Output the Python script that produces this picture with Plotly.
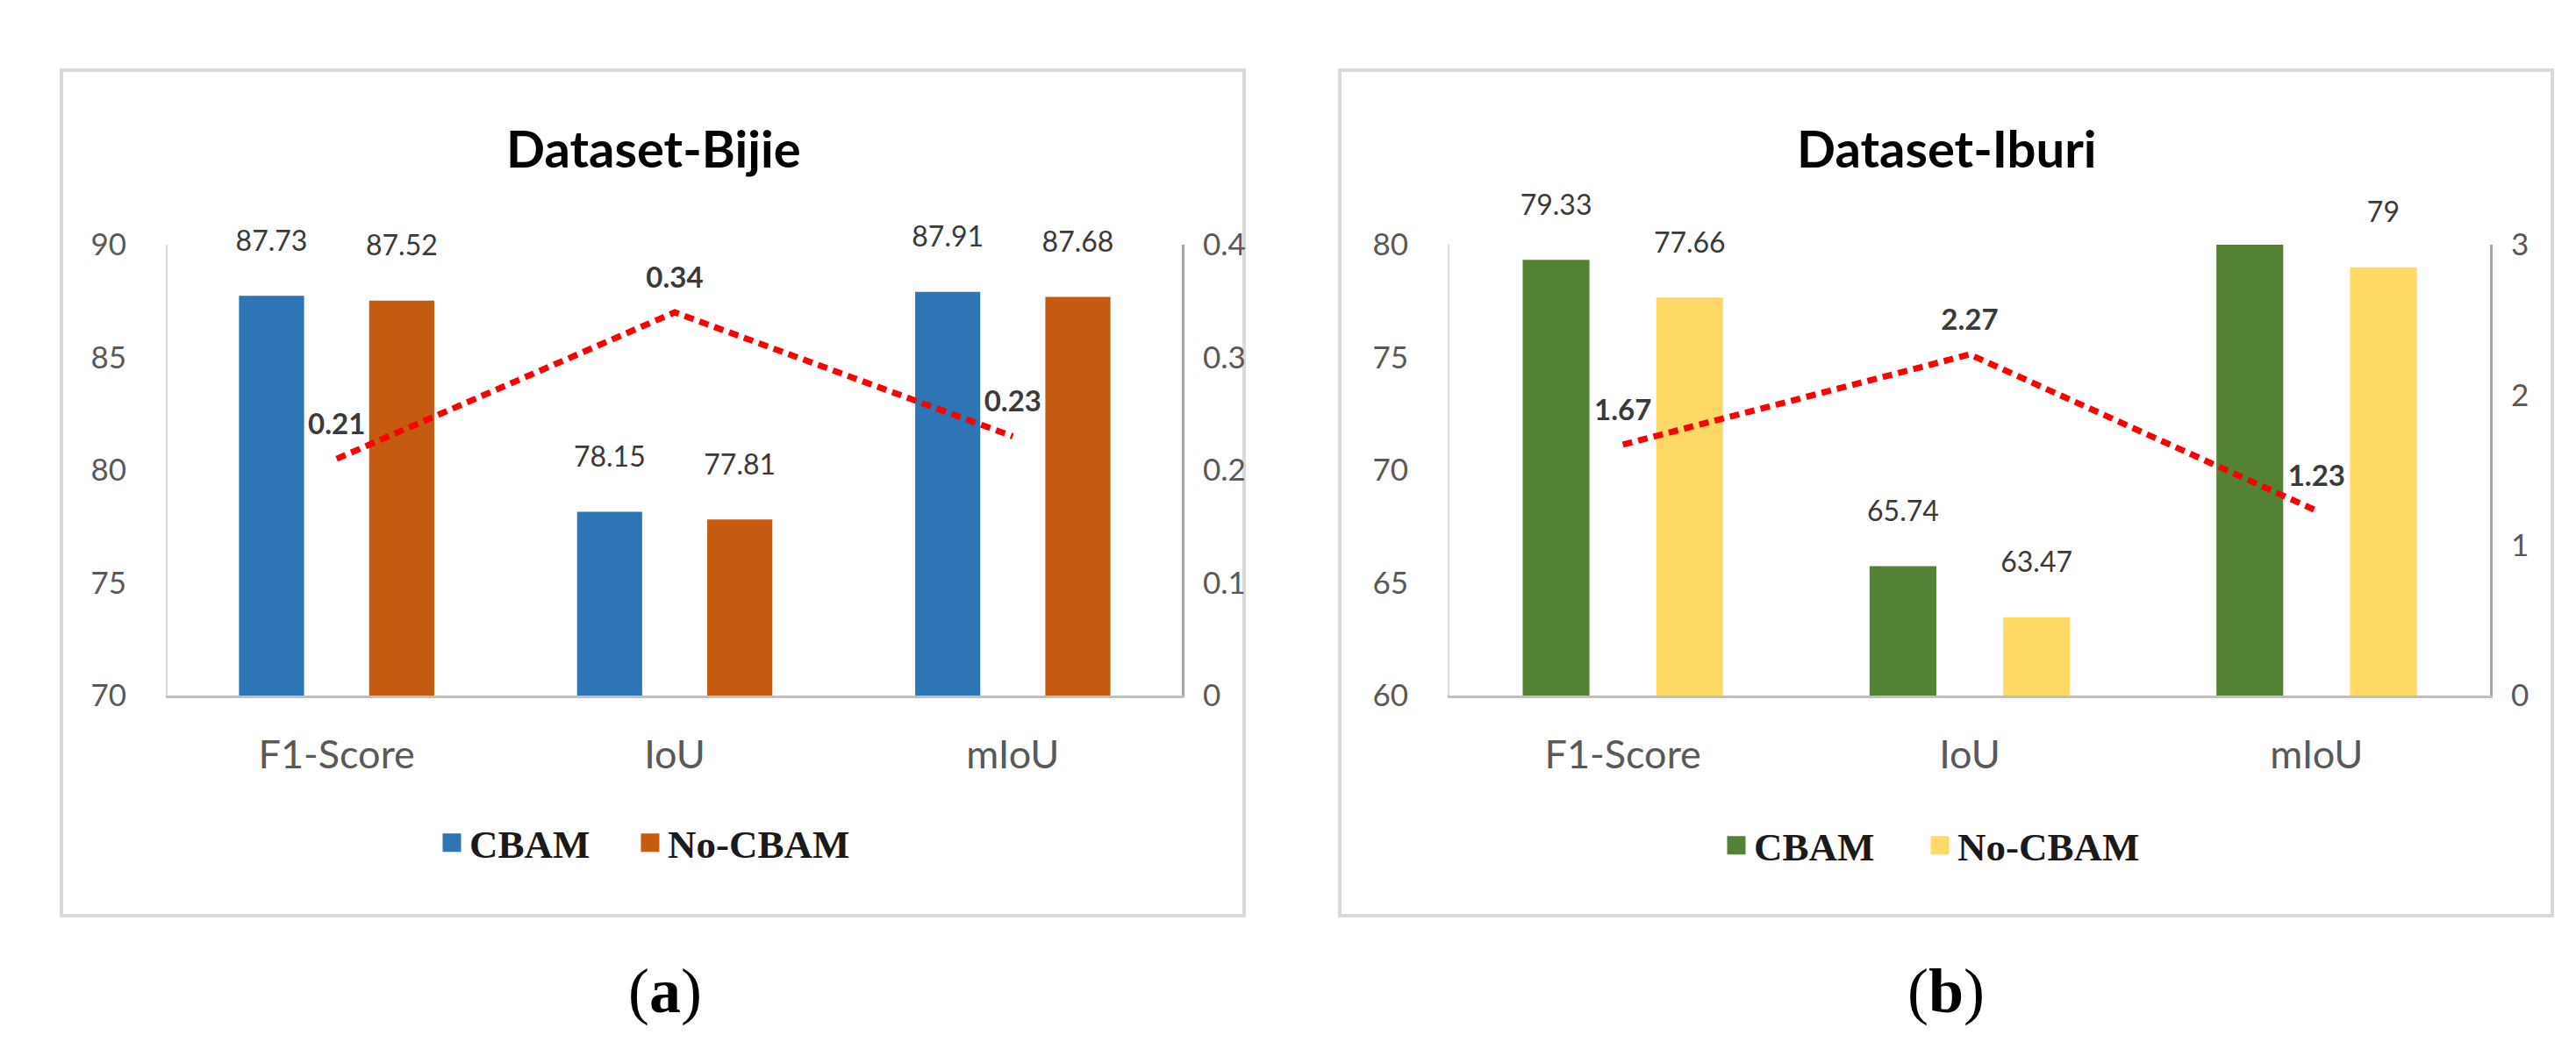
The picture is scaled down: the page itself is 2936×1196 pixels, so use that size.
import plotly.graph_objects as go

categories = ["F1-Score", "IoU", "mIoU"]

bijie_cbam = [87.73, 78.15, 87.91]
bijie_nocbam = [87.52, 77.81, 87.68]
bijie_diff = [0.21, 0.34, 0.23]

iburi_cbam = [79.33, 65.74, 80.23]
iburi_nocbam = [77.66, 63.47, 79]
iburi_diff = [1.67, 2.27, 1.23]

series_names = ["CBAM", "No-CBAM"]
panel_titles = ["Dataset-Bijie", "Dataset-Iburi"]
panel_captions = ["(<b>a</b>)", "(<b>b</b>)"]

W, H = 2936, 1196
SANS = "Lato, 'Open Sans', sans-serif"
SERIF = "'Liberation Serif', 'DejaVu Serif', serif"


def px_x(v):
    return v / W


def px_y(v):
    return 1 - v / H


def fmt(v):
    return f"{v:g}"


fig = go.Figure()

panels = [
    dict(xa="x", ya="y", ya2="y2", legends=["legend", "legend2"],
         vals=[bijie_cbam, bijie_nocbam], diff=bijie_diff,
         colors=["#2E75B6", "#C55A11"]),
    dict(xa="x2", ya="y3", ya2="y4", legends=["legend3", "legend4"],
         vals=[iburi_cbam, iburi_nocbam], diff=iburi_diff,
         colors=["#548235", "#FFD966"]),
]

for p in panels:
    for name, vals, col in zip(series_names, p["vals"], p["colors"]):
        fig.add_trace(go.Bar(
            x=categories, y=vals, name=name, showlegend=False,
            xaxis=p["xa"], yaxis=p["ya"],
            marker=dict(color=col, line=dict(width=0)),
            text=[fmt(v) + "<br>&nbsp;" for v in vals],
            textposition="outside", constraintext="none", cliponaxis=False,
            textfont=dict(family=SANS, size=32, color="#3A3A3A"),
        ))
    # legend entries (square swatches), one legend box per entry
    for name, col, lg in zip(series_names, p["colors"], p["legends"]):
        fig.add_trace(go.Scatter(
            x=[None], y=[None], name=name, mode="markers",
            xaxis=p["xa"], yaxis=p["ya"], legend=lg,
            marker=dict(symbol="square", size=16, color=col,
                        line=dict(color=col, width=5)),
        ))
    fig.add_trace(go.Scatter(
        x=categories, y=p["diff"], xaxis=p["xa"], yaxis=p["ya2"],
        mode="lines+markers+text", showlegend=False,
        line=dict(color="#FF0000", width=7, dash="11px,7px"),
        marker=dict(size=30, color="rgba(0,0,0,0)"),
        text=["<b>" + fmt(v) + "</b>" for v in p["diff"]],
        textposition="top center", cliponaxis=False,
        textfont=dict(family=SANS, size=33, color="#3A3A3A"),
    ))

ydom = [px_y(785), px_y(271)]
tickfont = dict(family=SANS, size=35, color="#595959")
catfont = dict(family=SANS, size=45, color="#595959")

common_x = dict(type="category", showline=True, linecolor="#BFBFBF", linewidth=3,
                showgrid=False, tickfont=catfont, ticks="", ticklabelstandoff=26,
                fixedrange=True, automargin=False)
common_yl = dict(showline=True, linecolor="#D9D9D9", linewidth=2, showgrid=False,
                 zeroline=False, tickfont=tickfont, ticks="", ticklabelstandoff=38,
                 automargin=False)
common_yr = dict(showline=True, linecolor="#A6A6A6", linewidth=3, showgrid=False,
                 zeroline=False, tickfont=tickfont, ticks="", ticklabelstandoff=14,
                 side="right", automargin=False)

legend_common = dict(orientation="h", xanchor="left", yanchor="middle",
                     font=dict(family=SERIF, size=45, color="#1A1A1A", weight="bold"),
                     bgcolor="rgba(0,0,0,0)", itemsizing="trace")

fig.update_layout(
    width=W, height=H, autosize=False,
    margin=dict(l=0, r=0, t=0, b=0),
    paper_bgcolor="white", plot_bgcolor="white",
    barmode="group", bargap=0.23, bargroupgap=0.5,
    xaxis=dict(domain=[px_x(183), px_x(1339)], anchor="y", **common_x),
    yaxis=dict(domain=ydom, anchor="x", range=[70, 90], dtick=5, **common_yl),
    yaxis2=dict(overlaying="y", anchor="x", range=[0, 0.4], dtick=0.1, **common_yr),
    xaxis2=dict(domain=[px_x(1644), px_x(2830)], anchor="y3", **common_x),
    yaxis3=dict(domain=ydom, anchor="x2", range=[60, 80], dtick=5, **common_yl),
    yaxis4=dict(overlaying="y3", anchor="x2", range=[0, 3], dtick=1, **common_yr),
    legend=dict(x=px_x(487), y=px_y(953), **legend_common),
    legend2=dict(x=px_x(713), y=px_y(953), **legend_common),
    legend3=dict(x=px_x(1951), y=px_y(956), **legend_common),
    legend4=dict(x=px_x(2183), y=px_y(956), **legend_common),
    showlegend=True,
)

# panel frames
for x0, x1 in [(62, 1410), (1519, 2901)]:
    fig.add_shape(type="rect", xref="paper", yref="paper",
                  x0=px_x(x0), x1=px_x(x1), y0=px_y(1036), y1=px_y(72),
                  line=dict(color="#D9D9D9", width=4), fillcolor="rgba(0,0,0,0)",
                  layer="below")

# titles and captions
for title, cx in zip(panel_titles, [737, 2211]):
    fig.add_annotation(text="<b>" + title + "</b>", xref="paper", yref="paper",
                       x=px_x(cx), y=px_y(160), xanchor="center", yanchor="middle",
                       showarrow=False, font=dict(family=SANS, size=58, color="#000000"))
for cap, cx in zip(panel_captions, [750, 2210]):
    fig.add_annotation(text=cap, xref="paper", yref="paper",
                       x=px_x(cx), y=px_y(1122), xanchor="center", yanchor="middle",
                       showarrow=False, font=dict(family=SERIF, size=72, color="#000000"))

fig.write_html("out.html")
